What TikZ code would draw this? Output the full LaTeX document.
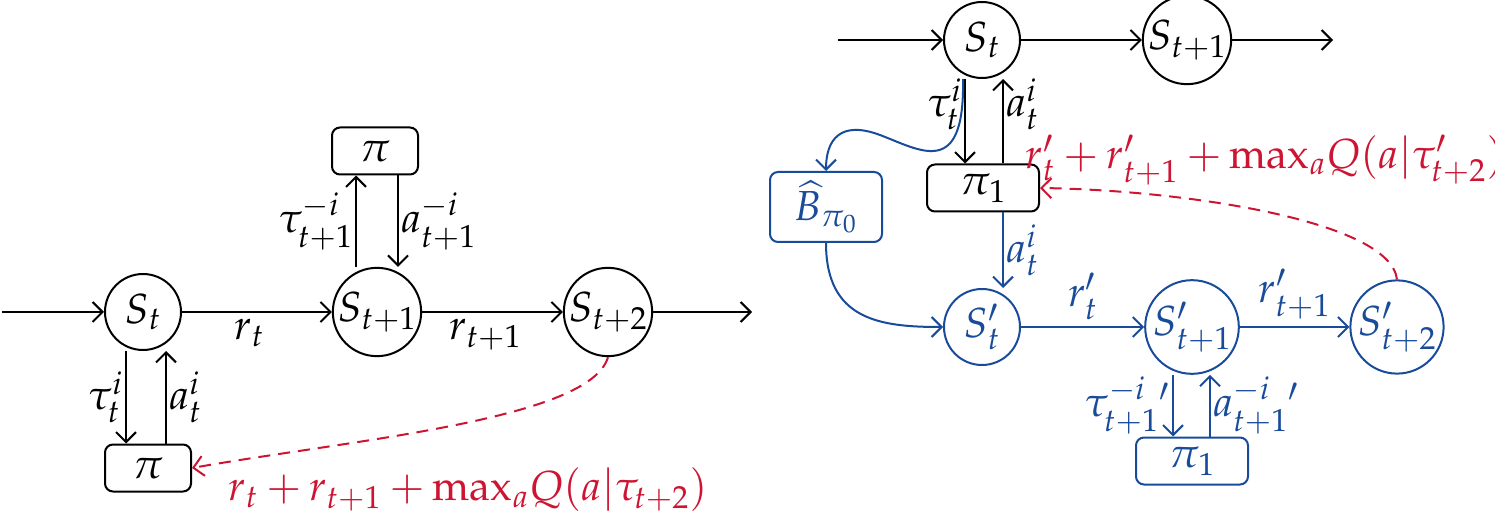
\documentclass[tikz,border=0pt]{standalone}
\usepackage{mathpazo}
\usetikzlibrary{arrows.meta}
\definecolor{myblue}{RGB}{25,75,155}
\definecolor{myred}{RGB}{205,20,50}
\begin{document}
\begin{tikzpicture}[x=0.5pt,y=-0.5pt,line width=1pt,
  font=\fontsize{21}{25}\selectfont,
  >={Straight Barb[length=5pt,width=10pt,line width=1pt]},
  st/.style={circle,draw,minimum size=38pt,inner sep=0pt},
  bx/.style={rounded corners=4pt,draw,minimum width=43pt,minimum height=23.5pt,inner sep=0pt},
  bl/.style={draw=myblue,text=myblue,myblue},
  rd/.style={myred,dashed,dash pattern=on 6pt off 4pt},
  lb/.style={inner sep=1pt}]
\useasboundingbox (0,0) rectangle (1495,513);
% left
\node[st] (a1) at (143,312) {$S_t$};
\node[st] (a2) at (377,312) {$S_{t+1}$};
\node[st] (a3) at (608,312) {$S_{t+2}$};
\coordinate (ain) at (2,312);
\coordinate (aout) at (752,312);
\node[bx] (ap) at (375,151) {$\pi$};
\node[bx] (aq) at (148,468) {$\pi$};
\draw[->] (ain) -- (a1);
\draw[->] (a1) -- node[below,pos=0.45]{$r_t$} (a2);
\draw[->] (a2) -- node[below,pos=0.45]{$r_{t+1}$} (a3);
\draw[->] (a3) -- (aout);
\draw[->] (a2.north-|356,0) -- node[left,lb]{$\tau^{-i}_{t+1}$} (ap.south-|356,0);
\draw[->] (ap.south-|398,0) -- node[right,lb]{$a^{-i}_{t+1}$} (a2.north-|398,0);
\draw[->] (a1.south-|126,0) -- node[left,lb]{$\tau^{i}_{t}$} (aq.north-|126,0);
\draw[->] (aq.north-|166,0) -- node[right,lb]{$a^{i}_{t}$} (a1.south-|166,0);
\draw[rd,->] (a3.south) .. controls (590,420) and (350,440) .. (aq.east);
\node[myred] (al) at (468,490) {$r_t+r_{t+1}+\mathrm{max}_aQ(a|\tau_{t+2})$};
% right
\node[st] (b1) at (982,40) {$S_t$};
\node[st] (b2) at (1187,40) {$S_{t+1}$};
\coordinate (bin) at (838,40);
\coordinate (bout) at (1333,40);
\node[bx,minimum width=56pt] (bp) at (983,188) {$\pi_1$};
\node[bx,bl,minimum width=56pt,minimum height=35pt] (bb) at (826,207) {$\widehat{B}_{\pi_0}$};
\node[st,bl] (c1) at (982,327) {$S'_t$};
\node[st,bl] (c2) at (1192,327) {$S'_{t+1}$};
\node[st,bl] (c3) at (1397,327) {$S'_{t+2}$};
\node[bx,bl,minimum width=56pt] (cp) at (1192,461) {$\pi_1$};
\draw[->] (bin) -- (b1);
\draw[->] (b1) -- (b2);
\draw[->] (b2) -- (bout);
\draw[->] (b1.south-|965,0) -- node[left,lb,pos=0.3]{$\tau^{i}_{t}$} (bp.north-|965,0);
\draw[->] (bp.north-|1003,0) -- node[right,lb,pos=0.7]{$a^{i}_{t}$} (b1.south-|1003,0);
\draw[bl,->] (b1.south-|963,0) .. controls (965,180) and (920,150) .. (880,135) .. controls (840,120) and (826,140) .. (bb.north);
\draw[bl,->] (bp.south-|1003,0) -- node[right,lb]{$a^{i}_{t}$} (c1.north-|1003,0);
\draw[bl,->] (bb.south) .. controls (826,320) and (880,327) .. (c1.west);
\draw[bl,->] (c1) -- node[above]{$r'_t$} (c2);
\draw[bl,->] (c2) -- node[above]{$r'_{t+1}$} (c3);
\draw[bl,->] (c2.south-|1173,0) -- node[left,lb]{$\tau^{-i}_{t+1}{}'$} (cp.north-|1173,0);
\draw[bl,->] (cp.north-|1210,0) -- node[right,lb]{$a^{-i}_{t+1}{}'$} (c2.south-|1210,0);
\draw[rd,->] (c3.north) .. controls (1390,220) and (1180,190) .. (bp.east);
\node[myred] (bl2) at (1265,160) {$r'_t+r'_{t+1}+\mathrm{max}_aQ(a|\tau'_{t+2})$};
\end{tikzpicture}
\end{document}
